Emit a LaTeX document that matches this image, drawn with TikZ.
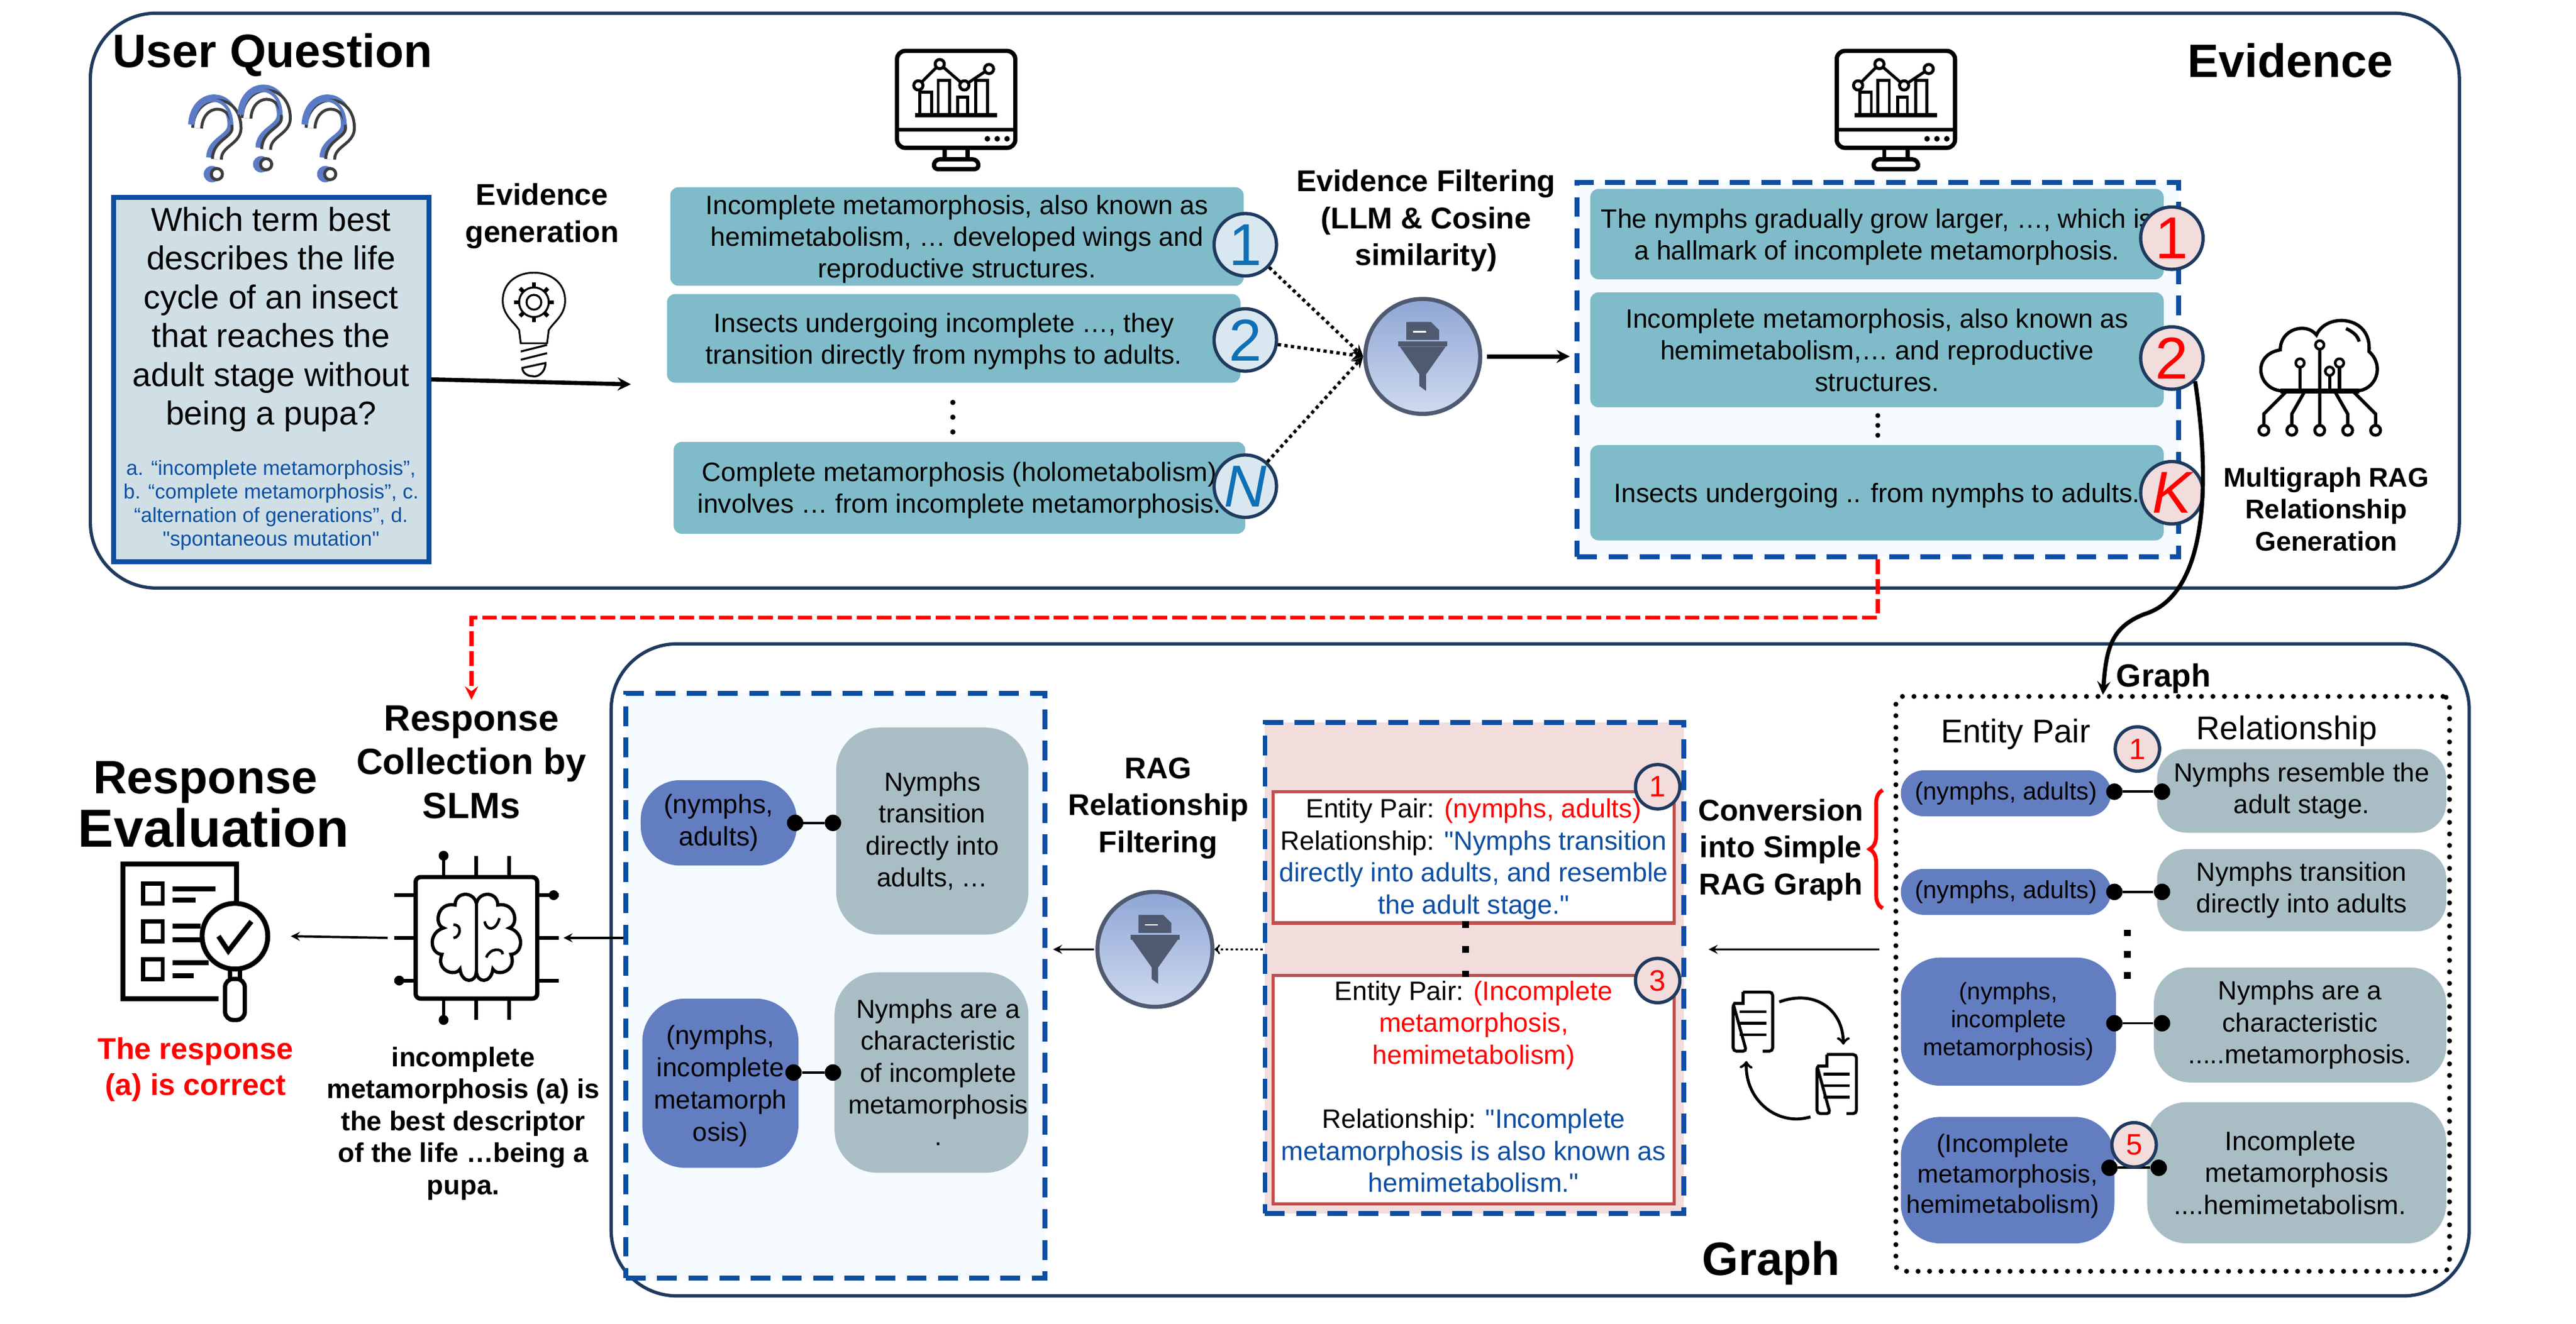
\documentclass[tikz,border=0pt]{standalone}
\usepackage{fontspec}
\setmainfont{Liberation Sans}[Ligatures=TeXOff]
\usetikzlibrary{shapes.geometric, arrows, decorations.pathreplacing}
\definecolor{navyline}{HTML}{1F3A5F}
\definecolor{tealbox}{HTML}{7FBBC9}
\definecolor{qfill}{HTML}{CFDFE5}
\definecolor{dashblue}{HTML}{0B4EA2}
\definecolor{paleblue}{HTML}{F4FAFD}
\definecolor{palepink}{HTML}{F2DCDC}
\definecolor{greybox}{HTML}{A9BDC4}
\definecolor{pillblue}{HTML}{637DC1}
\definecolor{darkred}{HTML}{C0504D}
\definecolor{numblue}{HTML}{0F70B7}
\definecolor{badgeblue}{HTML}{D9E8F0}
\definecolor{funnelgrey}{HTML}{4F5A70}
\definecolor{qblue}{HTML}{5B7BC6}
\definecolor{qdark}{HTML}{3C3C3C}
\definecolor{disctop}{HTML}{8FA6D5}
\definecolor{discbottom}{HTML}{CFDAEF}
\tikzstyle{panel} = [rectangle, rounded corners=40, draw=navyline, line width=2]
\tikzstyle{title} = [font=\fontsize{28.5}{32}\selectfont\bfseries]
\tikzstyle{step label} = [align=center, font=\fontsize{18.3}{22.5}\selectfont\bfseries]
\tikzstyle{qbox} = [rectangle, draw=dashblue, fill=qfill, line width=3]
\tikzstyle{teal} = [rectangle, rounded corners=5, fill=tealbox, inner sep=0, align=center, text depth=-2, font=\fontsize{16.2}{19.3}\selectfont]
\tikzstyle{dashbox} = [rectangle, draw=dashblue, line width=3, dash pattern=on 12 off 7]
\tikzstyle{whitebox} = [rectangle, draw=darkred, fill=white, line width=2, inner sep=0, align=center, font=\fontsize{16.2}{19.5}\selectfont]
\tikzstyle{pill} = [rectangle, fill=pillblue, inner sep=0, align=center, font=\fontsize{15}{19}\selectfont]
\tikzstyle{greycard} = [rectangle, fill=greybox, inner sep=0, align=center, font=\fontsize{16}{19.4}\selectfont]
\tikzstyle{bigbadge} = [circle, draw=navyline, line width=2, minimum size=38, inner sep=0, font=\fontsize{36}{36}\selectfont]
\tikzstyle{smallbadge} = [circle, draw=navyline, line width=2, fill=palepink, text=red, minimum size=27, inner sep=0, font=\fontsize{18}{18}\selectfont]
\tikzstyle{linkdot} = [circle, fill=black, inner sep=0, minimum size=10]
\tikzstyle{link} = [line width=1.5]
\tikzstyle{arrow} = [line width=2.5,->,>=stealth]
\tikzstyle{thinarrow} = [line width=1.4,->,>=stealth]
\tikzstyle{dotarrow} = [line width=2,dash pattern=on 2 off 2,->,>=stealth]
\tikzstyle{filterdisc} = [circle, draw=funnelgrey, line width=2.5, minimum size=70, top color=disctop, bottom color=discbottom]
\tikzset{
  monitoricon/.pic={
    \draw [line width=2.6, rounded corners=5] (-36,-36) rectangle (36,23);
    \draw [line width=2.6] (-36,12) -- (36,12);
    \foreach \dx in {19,25,31} \fill (\dx,17.5) circle (1.7);
    \draw [line width=2.6] (-7,23) -- (-7,29) (7,23) -- (7,29);
    \draw [line width=2.6, rounded corners=3] (-14,36) -- (-13,30) -- (13,30) -- (14,36) -- cycle;
    \draw [line width=2.6] (-25,3) -- (25,3);
    \draw [line width=1.8] (-22,3) -- (-22,-11) -- (-15,-11) -- (-15,3)
      (-11,3) -- (-11,-18) -- (-4,-18) -- (-4,3)
      (1,3) -- (1,-8) -- (7,-8) -- (7,3)
      (12,3) -- (12,-18) -- (19,-18) -- (19,3);
    \draw [line width=1.8] (-23,-15) -- (-10,-28) -- (5,-15) -- (20,-25);
    \foreach \px/\py in {-23/-15,-10/-28,5/-15,20/-25}
      \draw [line width=1.8, fill=white] (\px,\py) circle (2.8);
  },
  funnelicon/.pic={
    \fill [funnelgrey] (-10,-21) -- (5,-21) -- (10,-16) -- (10,-10) -- (-10,-10) -- cycle;
    \draw [white, line width=0.8] (-6,-15) -- (2,-15);
    \fill [funnelgrey] (-15,-9) rectangle (15,-6);
    \fill [funnelgrey] (-14,-6) -- (14,-6) -- (2,11) -- (2,21) -- (-2,18) -- (-2,11) -- cycle;
  },
  docicon/.pic={
    \draw [line width=1.8, rounded corners=2] (-6,-18) -- (12,-18) -- (12,18) -- (6,18) (-4,18) -- (-12,18) -- (-12,-11) -- cycle;
    \draw [line width=1.8] (-12,-11) -- (-6,-11) -- (-6,-18);
    \foreach \ly in {-6,1,8} \draw [line width=1.8] (-8,\ly) -- (8,\ly);
  },
  qmark/.pic={
    \draw [qblue, line width=7] (-13,-10) .. controls (-12,-30) and (11,-30) .. (11,-10) .. controls (11,-1) and (-2,0) .. (-2,10);
    \fill [qblue] (-2,20) circle (5);
    \draw [qdark, line width=1.8, double=white, double distance=3.6]
      (-11,-8) .. controls (-10,-27) and (13,-27) .. (13,-8) .. controls (13,0) and (1,1) .. (1,11);
    \draw [qdark, line width=1.8, fill=white] (1,20) circle (3.4);
    \draw [qblue, line width=2] (-13.5,-10) .. controls (-12.5,-30) and (10,-30) .. (10,-10);
  },
  bulbicon/.pic={
    \draw [line width=1.1] (-8,25) -- (-9,17) .. controls (-12,12) and (-19,8) .. (-19,-1)
      .. controls (-19,-12) and (-10,-18) .. (0,-18) .. controls (10,-18) and (19,-12) .. (19,-1)
      .. controls (19,8) and (12,12) .. (9,17) -- (8,25) -- cycle;
    \draw [line width=1.2] (0,0) circle (4.5) (0,0) circle (9);
    \foreach \a in {0,45,...,315}
      \draw [line width=2.4] (\a:9) -- (\a:12);
    \draw [line width=1.2] (-8,30) -- (8,26) (-8,35) -- (8,31);
    \draw [line width=1.2] (-7,40) -- (7,37) .. controls (7,43) and (2,46) .. (-1,45) .. controls (-4,45) and (-7,43) .. (-7,40) -- cycle;
  },
  cloudicon/.pic={
    \draw [line width=2] (-22,10) .. controls (-38,10) and (-42,-12) .. (-24,-15)
      .. controls (-24,-28) and (-8,-32) .. (-2,-24) .. controls (4,-38) and (32,-36) .. (30,-14)
      .. controls (40,-5) and (34,10) .. (22,10) -- cycle;
    \draw [line width=2] (16,-28) .. controls (20,-26) and (23,-24) .. (24,-20);
    \draw [line width=2] (-34,31) -- (-34,24) -- (-20,10) (-17,31) -- (-17,24) -- (-9,10)
      (0,-15) -- (0,31) (17,31) -- (17,24) -- (9,10) (34,31) -- (34,24) -- (20,10);
    \draw [line width=2] (-12,-4) -- (-12,10) (12,-4) -- (12,10) (6,1) -- (6,10);
    \draw [line width=3] (-24,10) -- (24,10);
    \foreach \px in {-34,-17,0,17,34} \draw [line width=1.8, fill=white] (\px,34) circle (3);
    \foreach \px/\py in {0/-18,-12/-7,12/-7,6/-2} \draw [line width=1.6, fill=white] (\px,\py) circle (2.6);
  },
  brainlobe/.pic={
    \draw [line width=2] (0,-21) .. controls (-2,-29) and (-13,-28) .. (-13,-20)
      .. controls (-24,-22) and (-26,-8) .. (-20,-6) .. controls (-30,-3) and (-28,10) .. (-21,10)
      .. controls (-25,20) and (-13,24) .. (-10,19) .. controls (-9,28) and (0,28) .. (0,20);
  },
  chipicon/.pic={
    \draw [line width=2.6, rounded corners=3] (-37,-37) rectangle (37,37);
    \foreach \p in {-20,0,20} {
      \draw [line width=2.2] (\p,-37) -- (\p,-50) (\p,37) -- (\p,50);
      \draw [line width=2.2] (-37,\p*1.3) -- (-50,\p*1.3) (37,\p*1.3) -- (50,\p*1.3);
    }
    \foreach \px/\py in {-20/-50,-20/50,-47/26,47/-26} \fill (\px,\py) circle (3);
    \pic {brainlobe};
    \pic [xscale=-1] {brainlobe};
    \draw [line width=2] (0,-21) -- (0,20);
    \draw [line width=1.6] (-14,-8) .. controls (-8,-8) and (-10,0) .. (-14,0)
      (14,-12) .. controls (12,-4) and (6,-4) .. (5,-10)
      (6,12) .. controls (8,6) and (16,6) .. (16,10);
  },
  listicon/.pic={
    \draw [line width=3] (1,-21) -- (1,-44) -- (-68,-44) -- (-68,38) -- (-10,38);
    \foreach \ly in {-32,-9,14}
      \draw [line width=2.6] (-56,\ly) rectangle (-44,\ly+12);
    \draw [line width=3] (-38,-29) -- (-12,-29) (-38,-22) -- (-24,-22)
      (-38,-6) -- (-21,-6) (-38,2) -- (-21,2)
      (-38,16) -- (-16,16) (-38,24) -- (-25,24);
    \draw [line width=3] (0,0) circle (20);
    \draw [line width=3] (-10,0) -- (-4,9) -- (10,-9);
    \draw [line width=2.6, rounded corners=5] (-6,26) rectangle (6,51);
    \draw [line width=2.6] (-3,20) -- (-3,26) (3,20) -- (3,26);
  }
}
\begin{document}
\begin{tikzpicture}[x=1pt,y=-1pt]
  \useasboundingbox (0,0) rectangle (1568,806.1);
  % panels
  \node (toppanel) [panel, minimum width=1442, minimum height=350] at (776,183) {};
  \node (botpanel) [panel, minimum width=1131, minimum height=397] at (937.5,590.5) {};
  \node (usertitle) [title] at (166,33.5) {User Question};
  \node (evtitle) [title] at (1394,37) {Evidence};
  \node (graphtitle) [title] at (1078,769) {Graph};
  % question
  \pic at (131,86) {qmark};
  \pic at (161,80) {qmark};
  \pic at (200,86) {qmark};
  \node (qbox) [qbox, minimum width=192, minimum height=222] at (165,231) {};
  \node (qtext) [align=center, font=\fontsize{20.2}{23.6}\selectfont] at (165,194.5) {Which term best\\describes the life\\cycle of an insect\\that reaches the\\adult stage without\\being a pupa?};
  \node (qopts) [align=center, text=dashblue, font=\fontsize{12.5}{14.4}\selectfont] at (165,307.5) {a. “incomplete metamorphosis”,\\b. “complete metamorphosis”, c.\\“alternation of generations”, d.\\"spontaneous mutation"};
  \node (genlabel) [step label] at (330,131.5) {Evidence\\generation};
  \pic at (325,184) {bulbicon};
  \coordinate (genend) at (384,234);
  \draw [arrow] (qbox.east) -- (genend);
  % generated evidence
  \pic at (582,67) {monitoricon};
  \node (gen1) [teal, minimum width=349, minimum height=60] at (582.5,144) {Incomplete metamorphosis, also known as\\hemimetabolism, … developed wings and\\reproductive structures.};
  \node (gen2) [teal, minimum width=349, minimum height=54] at (580.5,206) {Insects undergoing incomplete …, they\hspace*{12pt}\\transition directly from nymphs to adults.\hspace*{12pt}};
  \node (gen3) [teal, minimum width=348, minimum height=56] at (584,297) {Complete metamorphosis (holometabolism)\\involves … from incomplete metamorphosis.};
  \foreach \dy in {245,254,263} \fill (580,\dy) circle (1.6);
  \node (num1) [bigbadge, fill=badgeblue, text=numblue] at (758,149) {1};
  \node (num2) [bigbadge, fill=badgeblue, text=numblue] at (758,207) {2};
  \node (numN) [bigbadge, fill=badgeblue, text=numblue] at (758,296) {\itshape N};
  % filtering
  \node (evfilter) [filterdisc] at (866,217) {};
  \pic at (866,217) {funnelicon};
  \node (filterlabel) [step label] at (868,134.5) {Evidence Filtering\\(LLM \& Cosine\\similarity)};
  \draw [dotarrow] (num1) -- (evfilter.west);
  \draw [dotarrow] (num2) -- (evfilter.west);
  \draw [dotarrow] (numN) -- (evfilter.west);
  % kept evidence
  \pic at (1154,67) {monitoricon};
  \node (evbox) [dashbox, fill=paleblue, minimum width=366, minimum height=228] at (1143,225) {};
  \draw [arrow, shorten <=3, shorten >=3] (evfilter.east) -- (evbox.west |- evfilter);
  \node (kept1) [teal, minimum width=349, minimum height=55] at (1142.5,142.5) {The nymphs gradually grow larger, …, which is\\a hallmark of incomplete metamorphosis.};
  \node (kept2) [teal, minimum width=349, minimum height=70] at (1142.5,213) {Incomplete metamorphosis, also known as\\hemimetabolism,… and reproductive\\structures.};
  \node (kept3) [teal, minimum width=349, minimum height=58] at (1142.5,300) {Insects undergoing .. from nymphs to adults.};
  \foreach \dy in {253,259,265} \fill (1143,\dy) circle (1.5);
  \node (keep1) [bigbadge, fill=palepink, text=red] at (1322,145) {1};
  \node (keep2) [bigbadge, fill=palepink, text=red] at (1322,218) {2};
  \node (keepK) [bigbadge, fill=palepink, text=red] at (1322,300) {\itshape K};
  \pic at (1412,228) {cloudicon};
  \node (multilabel) [align=center, font=\fontsize{16.4}{19.5}\selectfont\bfseries] at (1416,310) {Multigraph RAG\\Relationship\\Generation};
  % simple graph
  \node (graphlabel) [font=\fontsize{19.5}{22}\selectfont\bfseries] at (1317,413) {Graph};
  \node (graphbox) [rectangle, rounded corners=4, draw=black, line width=3, line cap=round, dash pattern=on 0 off 7, minimum width=337, minimum height=350] at (1322.5,599) {};
  \coordinate (graphin) at (1280,423);
  \draw [line width=2.5,->,>=stealth] (keep2.south east) .. controls (1345,290) and (1345,362) .. (1305,374) .. controls (1285,382) and (1282,395) .. (graphin);
  \node (pairhead) [font=\fontsize{20}{24}\selectfont] at (1227,447) {Entity Pair};
  \node (relhead) [font=\fontsize{20}{24}\selectfont] at (1392,445) {Relationship};
  \node (pairA) [pill, rounded corners=14, minimum width=128, minimum height=28] at (1221,483) {(nymphs, adults)};
  \node (relA) [greycard, rounded corners=18, minimum width=176, minimum height=51] at (1401,481.5) {Nymphs resemble the\\adult stage.};
  \node (pairB) [pill, rounded corners=14, minimum width=128, minimum height=28] at (1221,543) {(nymphs, adults)};
  \node (relB) [greycard, rounded corners=18, minimum width=176, minimum height=50] at (1401,542) {Nymphs transition\\directly into adults};
  \node (pairC) [pill, rounded corners=24, minimum width=131, minimum height=78, font=\fontsize{14.5}{17}\selectfont] at (1222.5,622) {(nymphs,\\incomplete\\metamorphosis)};
  \node (relC) [greycard, rounded corners=22, minimum width=178, minimum height=70] at (1400,624) {Nymphs are a\\characteristic\\.....metamorphosis.};
  \node (pairD) [pill, rounded corners=24, minimum width=130, minimum height=77, text depth=8, font=\fontsize{15.4}{18.6}\selectfont] at (1222,718.5) {(Incomplete\hspace*{6pt}\\metamorphosis,\hspace*{6pt}\\hemimetabolism)\hspace*{6pt}};
  \node (relD) [greycard, rounded corners=24, minimum width=182, minimum height=86, font=\fontsize{16.3}{19.4}\selectfont] at (1398,714) {Incomplete\hspace*{8pt}\\metamorphosis\hspace*{8pt}\\....hemimetabolism.\hspace*{8pt}};
  \node (dotA) [linkdot] at (1287,482) {};
  \node (endA) [linkdot] at (1316,482) {};
  \node (dotB) [linkdot] at (1287,543) {};
  \node (endB) [linkdot] at (1316,543) {};
  \node (dotC) [linkdot] at (1287,623) {};
  \node (endC) [linkdot] at (1316,623) {};
  \node (dotD) [linkdot] at (1284,711) {};
  \node (endD) [linkdot] at (1314,711) {};
  \draw [link] (dotA) -- (endA);
  \draw [link] (dotB) -- (endB);
  \draw [link] (dotC) -- (endC);
  \draw [link] (dotD) -- (endD);
  \foreach \dy in {568,581,594} \fill (1293,\dy-2) rectangle (1297,\dy+2);
  \node (rankA) [smallbadge] at (1301,456) {1};
  \node (rankD) [smallbadge] at (1299,697) {5};
  \draw [red, line width=2.4, decorate, decoration={brace, amplitude=8}] (1146,553) -- (1146,481);
  % conversion
  \node (convlabel) [step label] at (1084,517.5) {Conversion\\into Simple\\RAG Graph};
  \coordinate (graphout) at (1144,578);
  \coordinate (relin) at (1040,578);
  \pic at (1067,622) {docicon};
  \pic at (1118,660) {docicon};
  \draw [line width=1.8,->,>=to] (1083,610) .. controls (1105,602) and (1122,615) .. (1122,636);
  \draw [line width=1.8,->,>=to] (1102,680) .. controls (1082,686) and (1062,670) .. (1063,646);
  \draw [thinarrow] (graphout) -- (relin);
  % filtered relationships
  \node (relbox) [dashbox, fill=palepink, minimum width=255, minimum height=299] at (897.5,589.5) {};
  \node (relkeep1) [whitebox, minimum width=244, minimum height=80, text depth=1.5] at (897,522) {Entity Pair: \textcolor{red}{(nymphs, adults)}\\Relationship: \textcolor{dashblue}{"Nymphs transition}\\\textcolor{dashblue}{directly into adults, and resemble}\\\textcolor{dashblue}{the adult stage."}};
  \node (relkeep2) [whitebox, minimum width=244, minimum height=139, text depth=4] at (897,663.5) {Entity Pair: \textcolor{red}{(Incomplete}\\\textcolor{red}{metamorphosis,}\\\textcolor{red}{hemimetabolism)}\\[19.5pt]Relationship: \textcolor{dashblue}{"Incomplete}\\\textcolor{dashblue}{metamorphosis is also known as}\\\textcolor{dashblue}{hemimetabolism."}};
  \foreach \dy in {563,578,593} \fill (890,\dy-2) rectangle (894,\dy+2);
  \node (relnum1) [smallbadge] at (1009,479) {1};
  \node (relnum3) [smallbadge] at (1009,597) {3};
  \node (relfilter) [filterdisc] at (703,578) {};
  \pic at (703,578) {funnelicon};
  \node (ragfilter) [step label] at (705,492) {RAG\\Relationship\\Filtering};
  \draw [line width=1.2,dash pattern=on 1.5 off 1.5,->,>=to] (relbox.west |- relfilter) -- (relfilter.east);
  \coordinate (relout) at (641,578);
  \draw [thinarrow, shorten <=1] (relfilter.west) -- (relout);
  % surviving graph
  \node (keepbox) [dashbox, fill=paleblue, minimum width=255, minimum height=356] at (508.5,600) {};
  \node (keeppair1) [pill, rounded corners=24, minimum width=95, minimum height=52, font=\fontsize{16.2}{19.5}\selectfont] at (437.5,501) {(nymphs,\\adults)};
  \node (keeprel1) [greycard, rounded corners=26, minimum width=117, minimum height=126] at (567.5,506) {Nymphs\\transition\\directly into\\adults, …};
  \node (keeppair2) [pill, rounded corners=26, minimum width=95, minimum height=103, text depth=0, font=\fontsize{16}{19.7}\selectfont] at (438.5,659.5) {(nymphs,\\incomplete\\metamorph\\osis)};
  \node (keeprel2) [greycard, rounded corners=26, minimum width=118, minimum height=122] at (567,653) {\hspace*{8pt}Nymphs are a\\\hspace*{8pt}characteristic\\\hspace*{8pt}of incomplete\\\hspace*{8pt}metamorphosis\\\hspace*{8pt}.};
  \node (keepdot1) [linkdot] at (484,501) {};
  \node (keepend1) [linkdot] at (507,501) {};
  \node (keepdot2) [linkdot] at (483,653) {};
  \node (keepend2) [linkdot] at (507,653) {};
  \draw [link] (keepdot1) -- (keepend1);
  \draw [link] (keepdot2) -- (keepend2);
  % responses
  \pic (chip) at (290,571) {chipicon};
  \coordinate (chipright) at (343,571);
  \coordinate (chipleft) at (236,571);
  \coordinate (listright) at (177,570);
  \draw [thinarrow] (keepbox.west |- chipright) -- (chipright);
  \draw [thinarrow] (chipleft) -- (listright);
  \node (collect) [align=center, font=\fontsize{22.3}{26.7}\selectfont\bfseries] at (287,464) {Response\\Collection by\\SLMs};
  \coordinate (redturn) at (287,376);
  \draw [red, line width=2.5, dash pattern=on 9 off 3,->,>=stealth] (evbox.south) |- (redturn) -- (collect.north);
  \node (evalA) [title] at (125,476.5) {Response};
  \node (evalB) [font=\fontsize{32.6}{36}\selectfont\bfseries] at (130,504) {Evaluation};
  \pic at (143,570) {listicon};
  \node (verdict) [align=center, text=red, font=\fontsize{18.3}{22}\selectfont\bfseries] at (119,651) {The response\\(a) is correct};
  \node (answer) [align=center, font=\fontsize{16.5}{19.5}\selectfont\bfseries] at (282,684) {incomplete\\metamorphosis (a) is\\the best descriptor\\of the life …being a\\pupa.};
\end{tikzpicture}
\end{document}
